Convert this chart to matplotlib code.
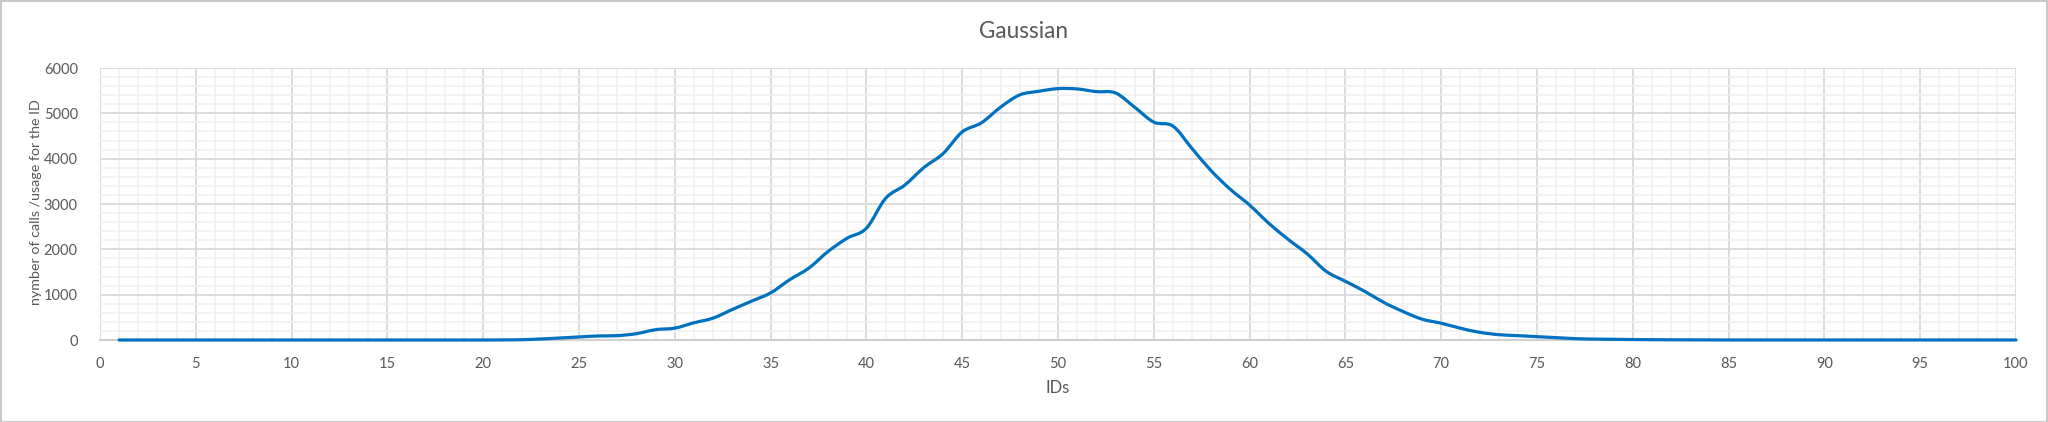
import numpy as np
import matplotlib
matplotlib.use("Agg")
import matplotlib.pyplot as plt
from matplotlib.path import Path
from matplotlib.patches import PathPatch, Rectangle
from matplotlib.ticker import MultipleLocator

plt.rcParams['font.family'] = ['Lato', 'DejaVu Sans']

# ---- data ----
ids = list(range(1, 101))
calls = ([0] * 20 +
         [2, 7, 22, 44, 67, 89, 96, 140, 228, 262,
          380, 483, 673, 856, 1039, 1331, 1587, 1953, 2246, 2465,
          3124, 3416, 3804, 4111, 4590, 4790, 5135, 5406, 5487, 5545,
          5538, 5479, 5450, 5135, 4806, 4718, 4221, 3731, 3321, 2977,
          2575, 2224, 1902, 1514, 1295, 1075, 830, 630, 460, 370,
          260, 170, 118, 96, 74, 52, 30, 20, 15, 10,
          7, 5, 3, 2] +
         [1] * 16)
title = "Gaussian"
xlabel = "IDs"
ylabel = "nymber of calls /usage for the ID"
x_ticks = list(range(0, 101, 5))
y_ticks = list(range(0, 6001, 1000))

W, H = 2048, 422
fig = plt.figure(figsize=(W / 100, H / 100), dpi=100)
L, R, B, T = 100, 2016, 340, 68
ax = fig.add_axes([L / W, (H - B) / H, (R - L) / W, (B - T) / H])

text_col = "#595959"
ax.set_xlim(0, 100)
ax.set_ylim(0, 6000)
ax.set_xticks(x_ticks)
ax.set_yticks(y_ticks)
ax.xaxis.set_minor_locator(MultipleLocator(1))
ax.yaxis.set_minor_locator(MultipleLocator(200))
ax.grid(which='minor', color='#F0F0F0', linewidth=1.1, zorder=0)
ax.grid(which='major', color='#D9D9D9', linewidth=1.3, zorder=0.5)
ax.set_axisbelow(True)
for s in ['top', 'right', 'left']:
    ax.spines[s].set_visible(False)
ax.spines['bottom'].set_color('#D0D0D0')
ax.spines['bottom'].set_linewidth(1.5)
ax.tick_params(which='both', length=0, labelsize=10.5, labelcolor=text_col)
ax.tick_params(axis='y', pad=16)
ax.tick_params(axis='x', pad=12)

# smoothed line (Catmull-Rom -> cubic Bezier), like Excel smoothed line
x = np.asarray(ids, float)
y = np.asarray(calls, float)
n = len(x)
verts = [(x[0], y[0])]
codes = [Path.MOVETO]
for i in range(n - 1):
    p0 = (x[i - 1], y[i - 1]) if i > 0 else (x[i], y[i])
    p1 = (x[i], y[i])
    p2 = (x[i + 1], y[i + 1])
    p3 = (x[i + 2], y[i + 2]) if i + 2 < n else (x[i + 1], y[i + 1])
    c1 = (p1[0] + (p2[0] - p0[0]) / 6, p1[1] + (p2[1] - p0[1]) / 6)
    c2 = (p2[0] - (p3[0] - p1[0]) / 6, p2[1] - (p3[1] - p1[1]) / 6)
    verts += [c1, c2, p2]
    codes += [Path.CURVE4] * 3
patch = PathPatch(Path(verts, codes), facecolor='none', edgecolor='#0070C0',
                  linewidth=2.3, transform=ax.transData, zorder=3,
                  capstyle='round', joinstyle='round')
patch.set_clip_on(False)
ax.add_patch(patch)

fig.text(0.5, 1 - 31 / H, title, ha='center', va='center', fontsize=16.3, color=text_col)
fig.text(1058 / W, 1 - 388 / H, xlabel, ha='center', va='center', fontsize=12, color=text_col)
fig.text(36 / W, 1 - 202 / H, ylabel, ha='center', va='center', rotation=90,
         fontsize=10.3, color=text_col)

fig.add_artist(Rectangle((0.5 / W, 0.5 / H), 1 - 1.5 / W, 1 - 1.5 / H,
                         transform=fig.transFigure, fill=False,
                         edgecolor='#C8C8C8', linewidth=1.5))

fig.savefig("out.png", dpi=100, facecolor='white')
